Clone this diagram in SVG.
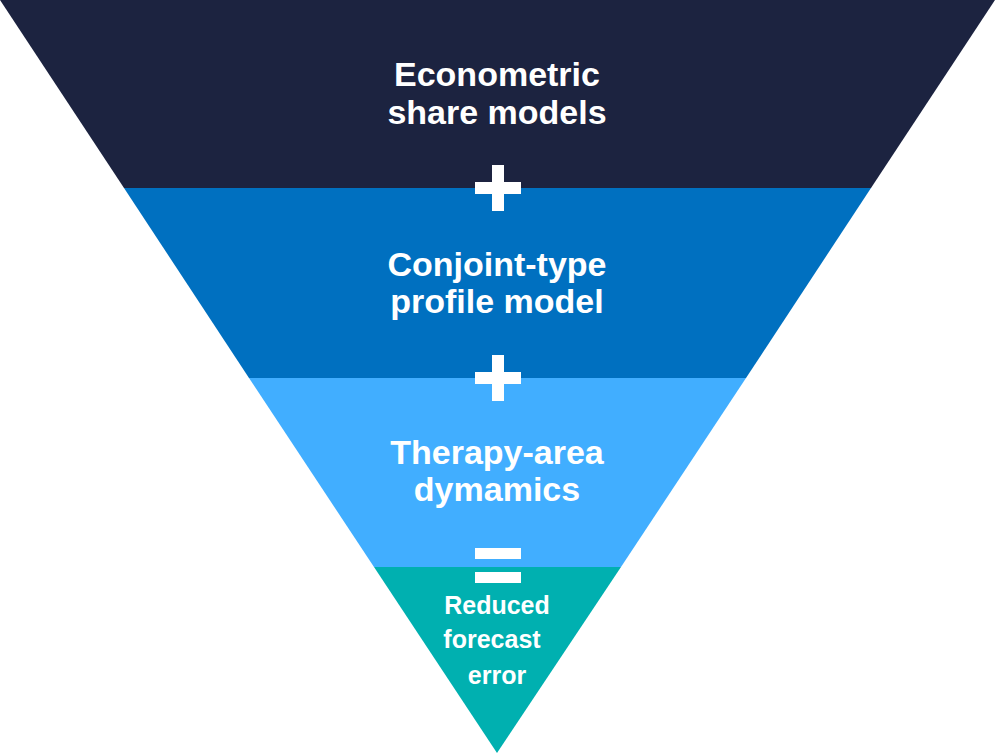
<svg xmlns="http://www.w3.org/2000/svg" width="995" height="756" viewBox="0 0 995 756">
<style>
.t{font-family:"Liberation Sans",Arial,sans-serif;font-weight:bold;fill:#fff;text-anchor:middle;font-size:34px}
.s{font-size:25px}
.w{fill:#fff}
</style>
<g id="band1"><polygon points="0,0 995,0 871,188 124,188" fill="#1c2340"/>
<text class="t" x="497" y="86">Econometric</text><text class="t" x="497" y="124">share models</text></g>
<g id="band2"><polygon points="124,188 871,188 746,378 249,378" fill="#0070c0"/>
<text class="t" x="497" y="276">Conjoint-type</text><text class="t" x="497" y="313">profile model</text></g>
<g id="band3"><polygon points="249,378 746,378 621,567 374,567" fill="#41aeff"/>
<text class="t" x="497" y="464">Therapy-area</text><text class="t" x="497" y="501">dymamics</text></g>
<g id="band4"><polygon points="374,567 621,567 497,753" fill="#00b0b0"/>
<text class="t s" x="497" y="614">Reduced</text><text class="t s" x="492" y="648">forecast</text><text class="t s" x="497" y="684">error</text></g>
<g id="ops">
<rect class="w" x="475" y="182" width="46" height="12"/><rect class="w" x="492" y="165" width="12" height="46"/>
<rect class="w" x="475" y="372" width="46" height="12"/><rect class="w" x="492" y="355" width="12" height="46"/>
<rect class="w" x="475" y="548" width="46" height="11"/><rect class="w" x="475" y="572" width="46" height="11"/>
</g>
</svg>
